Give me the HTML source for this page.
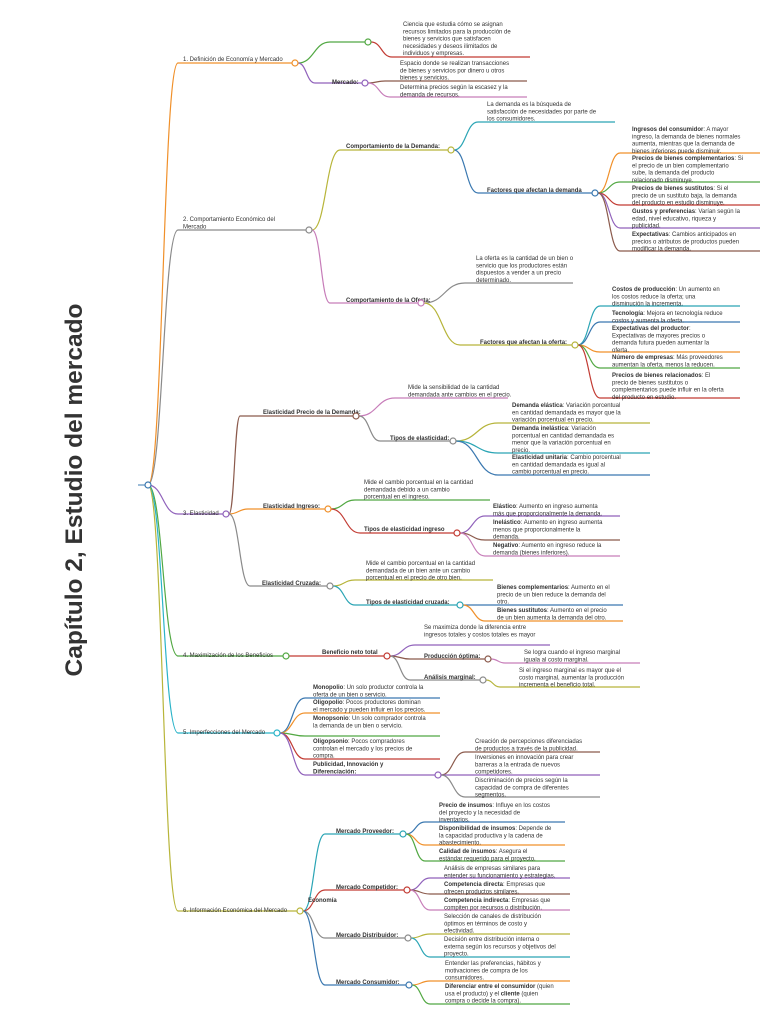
<!DOCTYPE html>
<html><head><meta charset="utf-8">
<style>
html,body{margin:0;padding:0;background:#fff;}
svg{display:block;}
text{font-family:"Liberation Sans",sans-serif;fill:#333;}
</style></head>
<body>
<svg id="s" width="768" height="1024" viewBox="0 0 768 1024" xmlns="http://www.w3.org/2000/svg">
<text x="82" y="490" transform="rotate(-90 82 490)" text-anchor="middle" font-size="24.5" font-weight="bold" style="fill:#333">Capítulo 2, Estudio del mercado</text>
<g id="g"></g>
<rect x="360" y="0" width="200" height="21" fill="#fff"/>
</svg>
<script>
var C={o:"#f0902a",gr:"#8a8a8a",pu:"#9062bb",g:"#52a843",cy:"#2ab3c8",ol:"#b6b43a",r:"#c23b33",br:"#8b5a4c",pk:"#c77db9",t:"#2ba5b5",b:"#3a78b0",y:"#b8b53a"};
var G=document.getElementById('g'),NS="http://www.w3.org/2000/svg",paths=[],circs=[],texts=[];
function el(t,a){var e=document.createElementNS(NS,t);for(var k in a)e.setAttribute(k,a[k]);return e;}
function n(p,tx,y0,lines,uy,x2,col,circ,bold,sx){
  sx=sx||tx-4;
  var px=p.x+3,py=p.y,mx=(px+sx)/2;
  paths.push(el('path',{d:"M"+px+","+py+" C"+mx+","+py+" "+mx+","+uy+" "+sx+","+uy+" L"+x2+","+uy,stroke:col,fill:"none","stroke-width":"1.2"}));
  for(var i=0;i<lines.length;i++){
    var t=el('text',{x:tx,y:y0+i*7.3,"font-size":"6"});
    var s=lines[i],parts=s.split("**");
    for(var j=0;j<parts.length;j++){if(!parts[j])continue;var sp=el('tspan',{});sp.textContent=parts[j];if(bold||j%2==1)sp.setAttribute('font-weight','bold');t.appendChild(sp);}
    texts.push(t);
  }
  var q={x:x2+3,y:uy};
  if(circ)circs.push(el('circle',{cx:q.x,cy:q.y,r:"3",fill:"#fff",stroke:col,"stroke-width":"1.2"}));
  return q;
}
var R={x:145,y:485};
function rt(y,col){return y;}
// 1
var a1=n(R,183,61,["1. Definición de Economía y Mercado"],63,292,C.o,1,0,178);
var a1a=n(a1,330,42,[],42,365,C.g,1,0,330);
n(a1a,403,26,["Ciencia que estudia cómo se asignan","recursos limitados para la producción de","bienes y servicios que satisfacen","necesidades y deseos ilimitados de","individuos y empresas."],57,530,C.r,0,0,392);
var a1b=n(a1,332,84,["Mercado:"],83,362,C.pu,1,1,315);
n(a1b,400,65,["Espacio donde se realizan transacciones","de bienes y servicios por dinero u otros","bienes y servicios."],81,527,C.br,0,0,385);
n(a1b,400,89,["Determina precios según la escasez y la","demanda de recursos."],97,527,C.pk,0,0,390);
// 2
var a2=n(R,183,221,["2. Comportamiento Económico del","Mercado"],230,306,C.gr,1,0,178);
var d=n(a2,346,148,["Comportamiento de la Demanda:"],150,448,C.y,1,1,340);
n(d,487,106,["La demanda es la búsqueda de","satisfacción de necesidades por parte de","los consumidores."],122,615,C.t,0,0,478);
var fd=n(d,487,192,["Factores que afectan la demanda"],193,592,C.b,1,1,478);
n(fd,632,131,["**Ingresos del consumidor**: A mayor","ingreso, la demanda de bienes normales","aumenta, mientras que la demanda de","bienes inferiores puede disminuir."],153,760,C.o,0,0,620);
n(fd,632,160,["**Precios de bienes complementarios**: Si","el precio de un bien complementario","sube, la demanda del producto","relacionado disminuye."],182,760,C.g,0,0,620);
n(fd,632,190,["**Precios de bienes sustitutos**: Si el","precio de un sustituto baja, la demanda","del producto en estudio disminuye."],205,760,C.r,0,0,620);
n(fd,632,213,["**Gustos y preferencias**: Varían según la","edad, nivel educativo, riqueza y","publicidad."],228,760,C.pu,0,0,620);
n(fd,632,236,["**Expectativas**: Cambios anticipados en","precios o atributos de productos pueden","modificar la demanda."],251,760,C.br,0,0,620);
var of=n(a2,346,302,["Comportamiento de la Oferta:"],303,418,C.pk,1,1,330);
n(of,476,260,["La oferta es la cantidad de un bien o","servicio que los productores están","dispuestos a vender a un precio","determinado."],283,573,C.gr,0,0,465);
var fo=n(of,480,344,["Factores que afectan la oferta:"],345,572,C.ol,1,1,460);
n(fo,612,291,["**Costos de producción**: Un aumento en","los costos reduce la oferta; una","disminución la incrementa."],306,740,C.t,0,0,600);
n(fo,612,315,["**Tecnología**: Mejora en tecnología reduce","costos y aumenta la oferta."],322,740,C.b,0,0,600);
n(fo,612,330,["**Expectativas del productor**:","Expectativas de mayores precios o","demanda futura pueden aumentar la","oferta."],352,740,C.o,0,0,600);
n(fo,612,359,["**Número de empresas**: Más proveedores","aumentan la oferta, menos la reducen."],368,740,C.g,0,0,600);
n(fo,612,377,["**Precios de bienes relacionados**: El","precio de bienes sustitutos o","complementarios puede influir en la oferta","del producto en estudio."],398,740,C.r,0,0,600);
// 3
var a3=n(R,183,515,["3. Elasticidad"],514,223,C.pu,1,0,178);
var ep=n(a3,263,414,["Elasticidad Precio de la Demanda:"],416,353,C.br,1,1,240);
n(ep,408,389,["Mide la sensibilidad de la cantidad","demandada ante cambios en el precio."],398,508,C.pk,0,0,395);
var te=n(ep,390,440,["Tipos de elasticidad:"],441,450,C.gr,1,1,380);
n(te,512,407,["**Demanda elástica**: Variación porcentual","en cantidad demandada es mayor que la","variación porcentual en precio."],423,650,C.ol,0,0,498);
n(te,512,430,["**Demanda inelástica**: Variación","porcentual en cantidad demandada es","menor que la variación porcentual en","precio."],453,650,C.t,0,0,498);
n(te,512,459,["**Elasticidad unitaria**: Cambio porcentual","en cantidad demandada es igual al","cambio porcentual en precio."],475,650,C.b,0,0,498);
var ei=n(a3,263,508,["Elasticidad Ingreso:"],509,325,C.o,1,1,248);
n(ei,364,484,["Mide el cambio porcentual en la cantidad","demandada debido a un cambio","porcentual en el ingreso."],500,490,C.g,0,0,355);
var ti=n(ei,364,531,["Tipos de elasticidad ingreso"],533,454,C.r,1,1,360);
n(ti,493,508,["**Elástico**: Aumento en ingreso aumenta","más que proporcionalmente la demanda."],516,620,C.pu,0,0,485);
n(ti,493,524,["**Inelástico**: Aumento en ingreso aumenta","menos que proporcionalmente la","demanda."],540,620,C.br,0,0,485);
n(ti,493,547,["**Negativo**: Aumento en ingreso reduce la","demanda (bienes inferiores)."],556,620,C.pk,0,0,485);
var ec=n(a3,262,585,["Elasticidad Cruzada:"],586,327,C.gr,1,1,250);
n(ec,366,565,["Mide el cambio porcentual en la cantidad","demandada de un bien ante un cambio","porcentual en el precio de otro bien."],580,493,C.ol,0,0,355);
var tc=n(ec,366,604,["Tipos de elasticidad cruzada:"],605,457,C.t,1,1,355);
n(tc,497,589,["**Bienes complementarios**: Aumento en el","precio de un bien reduce la demanda del","otro."],605,623,C.b,0,0,485);
n(tc,497,612,["**Bienes sustitutos**: Aumento en el precio","de un bien aumenta la demanda del otro."],621,623,C.o,0,0,485);
// 4
var a4=n(R,183,657,["4. Maximización de los Beneficios"],656,283,C.g,1,0,178);
var bn=n(a4,322,654,["Beneficio neto total"],656,384,C.r,1,1,300);
n(bn,424,629,["Se maximiza donde la diferencia entre","ingresos totales y costos totales es mayor"],645,550,C.pu,0,0,415);
var po=n(bn,424,658,["Producción óptima:"],659,485,C.br,1,1,410);
n(po,524,654,["Se logra cuando el ingreso marginal","iguala al costo marginal."],663,640,C.pk,0,0,505);
var am=n(bn,424,679,["Análisis marginal:"],680,480,C.gr,1,1,410);
n(am,519,672,["Si el ingreso marginal es mayor que el","costo marginal, aumentar la producción","incrementa el beneficio total."],687,640,C.ol,0,0,500);
// 5
var a5=n(R,183,734,["5. Imperfecciones del Mercado"],733,274,C.cy,1,0,178);
n(a5,313,689,["**Monopolio**: Un solo productor controla la","oferta de un bien o servicio."],698,440,C.b,0,0,305);
n(a5,313,704,["**Oligopolio**: Pocos productores dominan","el mercado y pueden influir en los precios."],713,440,C.o,0,0,305);
n(a5,313,720,["**Monopsonio**: Un solo comprador controla","la demanda de un bien o servicio."],736,440,C.g,0,0,305);
n(a5,313,743,["**Oligopsonio**: Pocos compradores","controlan el mercado y los precios de","compra."],759,440,C.r,0,0,305);
var pi=n(a5,313,766,["Publicidad, Innovación y","Diferenciación:"],775,435,C.pu,1,1,305);
n(pi,475,743,["Creación de percepciones diferenciadas","de productos a través de la publicidad."],752,600,C.br,0,0,465);
n(pi,475,759,["Inversiones en innovación para crear","barreras a la entrada de nuevos","competidores."],775,600,C.pu,0,0,465);
n(pi,475,782,["Discriminación de precios según la","capacidad de compra de diferentes","segmentos."],797,600,C.gr,0,0,465);
// 6
var a6=n(R,183,912,["6. Información Económica del Mercado"],911,297,C.y,1,0,178);
var mp=n(a6,336,833,["Mercado Proveedor:"],834,400,C.t,1,1,325);
n(mp,439,807,["**Precio de insumos**: Influye en los costos","del proyecto y la necesidad de","inventarios."],822,565,C.b,0,0,425);
n(mp,439,830,["**Disponibilidad de insumos**: Depende de","la capacidad productiva y la cadena de","abastecimiento."],845,565,C.o,0,0,425);
n(mp,439,853,["**Calidad de insumos**: Asegura el","estándar requerido para el proyecto."],861,565,C.g,0,0,425);
var mc=n(a6,336,889,["Mercado Competidor:"],890,404,C.r,1,1,325);
n(mc,444,870,["Análisis de empresas similares para","entender su funcionamiento y estrategias."],878,570,C.pu,0,0,430);
n(mc,444,886,["**Competencia directa**: Empresas que","ofrecen productos similares."],894,570,C.br,0,0,430);
n(mc,444,902,["**Competencia indirecta**: Empresas que","compiten por recursos o distribución."],910,570,C.pk,0,0,430);
var md=n(a6,336,937,["Mercado Distribuidor:"],938,405,C.gr,1,1,325);
n(md,444,918,["Selección de canales de distribución","óptimos en términos de costo y","efectividad."],934,570,C.ol,0,0,430);
n(md,444,941,["Decisión entre distribución interna o","externa según los recursos y objetivos del","proyecto."],957,570,C.t,0,0,430);
var mk=n(a6,336,984,["Mercado Consumidor:"],985,406,C.b,1,1,325);
n(mk,445,965,["Entender las preferencias, hábitos y","motivaciones de compra de los","consumidores."],981,570,C.o,0,0,430);
n(mk,445,988,["**Diferenciar entre el consumidor** (quien","usa el producto) y el **cliente** (quien","compra o decide la compra)."],1004,570,C.g,0,0,430);
var ec6=el('text',{x:308,y:902,"font-size":"6","font-weight":"bold"});ec6.textContent="Economía";texts.push(ec6);
paths.forEach(function(e){G.appendChild(e);});
texts.forEach(function(e){G.appendChild(e);});
circs.forEach(function(e){G.appendChild(e);});
G.appendChild(el('circle',{cx:148,cy:485,r:"3",fill:"#fff",stroke:C.b,"stroke-width":"1.2"}));
G.appendChild(el('path',{d:"M138,485 L145,485",stroke:C.b,"stroke-width":"1"}));
</script>
</body></html>
